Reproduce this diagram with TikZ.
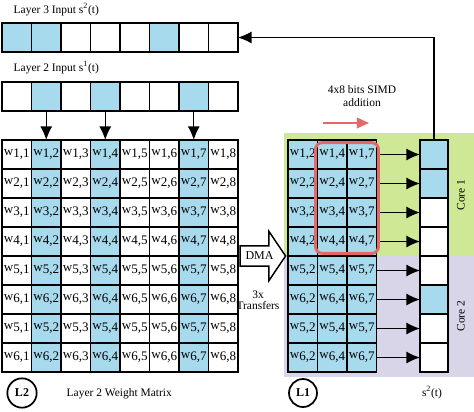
\documentclass[tikz,border=0pt]{standalone}
\usepackage{fontspec}
\setmainfont{Liberation Serif}
\usetikzlibrary{arrows.meta,positioning,calc,fit,shapes.arrows}
\definecolor{cellblue}{RGB}{168,218,238}
\definecolor{coregreen}{RGB}{206,232,150}
\definecolor{corepurple}{RGB}{216,213,232}
\definecolor{simdred}{RGB}{228,104,104}
\newcommand{\wij}[2]{w\raisebox{-0.45ex}{#1,#2}}

\begin{document}
\begin{tikzpicture}[x=0.75pt,y=-0.75pt,
    cell/.style={rectangle, draw=black, line width=1.1pt, minimum width=22.1pt,
                 minimum height=21.75pt, inner sep=0pt, outer sep=0pt,
                 font=\fontsize{9.8}{11}\selectfont},
    arrow/.style={-{Latex[length=3.6mm,width=3.2mm]}, line width=1.1pt},
    tag/.style={circle, draw, line width=1.3pt, minimum size=22pt, inner sep=0pt,
                font=\bfseries\fontsize{9}{10}\selectfont},
    lbl/.style={font=\fontsize{8.6}{10}\selectfont, align=center}
]
\useasboundingbox (0,0) rectangle (474,411);

% core regions
\fill[coregreen]  (284,133) rectangle (474,256);
\fill[corepurple] (284,256) rectangle (474,377);

% input vectors
\node[lbl, anchor=west] (lab3) at (9,10) {Layer 3 Input s\textsuperscript{2}(t)};
\foreach \i/\f in {1/cellblue,2/cellblue,3/white,4/white,5/white,6/cellblue,7/white,8/white}
  \node[cell, fill=\f] (in3-\i) at ({16.75+29.5*(\i-1)},37.5) {};
\node[lbl, anchor=west] (lab2) at (9,68) {Layer 2 Input s\textsuperscript{1}(t)};
\foreach \i/\f in {1/white,2/cellblue,3/white,4/cellblue,5/white,6/white,7/cellblue,8/white}
  \node[cell, fill=\f] (in2-\i) at ({16.75+29.5*(\i-1)},96.5) {};

% weight matrix in L2
\foreach \c/\f in {1/white,2/cellblue,3/white,4/cellblue,5/white,6/white,7/cellblue,8/white}
  \foreach \r/\k in {1/1,2/2,3/3,4/4,5/5,6/6,7/5,8/6}
    \node[cell, fill=\f] (w-\r-\c) at ({16.75+29.5*(\c-1)},{154.5+29*(\r-1)}) {\wij{\k}{\c}};
\node[tag] (l2tag) at (22,393) {L2};
\node[lbl, anchor=west] (l2lab) at (62,394) {Layer 2 Weight Matrix};

\foreach \c in {2,4,7}
  \draw[arrow] (in2-\c.south) -- (w-1-\c.north);

% DMA
\node[single arrow, draw, line width=1.1pt, fill=white, single arrow head extend=11pt,
      single arrow tip angle=112, minimum height=34pt, inner xsep=2.5pt, inner ysep=4pt,
      font=\fontsize{9}{10}\selectfont] (dma) at (259.5,256) {DMA};
\node[lbl] (xfer) at (258,300) {3x\\[-2pt]Transfers};

% weights in L1
\foreach \j/\c in {1/2,2/4,3/7}
  \foreach \r/\k in {1/1,2/2,3/3,4/4,5/5,6/6,7/5,8/6}
    \node[cell, fill=cellblue] (l1-\r-\j) at ({302.75+29.5*(\j-1)},{154.5+29*(\r-1)}) {\wij{\k}{\c}};
\node[tag, minimum size=21pt] (l1tag) at (303,393) {L1};

% output vector
\foreach \r/\f in {1/cellblue,2/cellblue,3/white,4/white,5/white,6/cellblue,7/white,8/white}
  \node[cell, fill=\f, minimum width=21pt] (out-\r) at (434,{154.5+29*(\r-1)}) {};
\node[lbl] (s2) at (432,393) {s\textsuperscript{2}(t)};

\foreach \r in {1,...,8}
  \draw[arrow] (l1-\r-3.east) -- (out-\r.west);
\draw[arrow] (out-1.north) |- (in3-8.east);

% SIMD
\node[draw=simdred, line width=2.2pt, rounded corners=5pt, inner xsep=1.5pt, inner ysep=-2pt,
      fit=(l1-1-2)(l1-4-3)] (simd) {};
\node[lbl] (simdlab) at (362,96) {4x8 bits SIMD\\addition};
\coordinate (simdL) at (323,123);
\coordinate (simdR) at (369,123);
\draw[-{Triangle[length=3.2mm,width=2.8mm]}, simdred, line width=1.4pt] (simdL) -- (simdR);

\node[lbl, rotate=90] (core1) at (461,195) {Core 1};
\node[lbl, rotate=90] (core2) at (461,316) {Core 2};
\end{tikzpicture}
\end{document}
